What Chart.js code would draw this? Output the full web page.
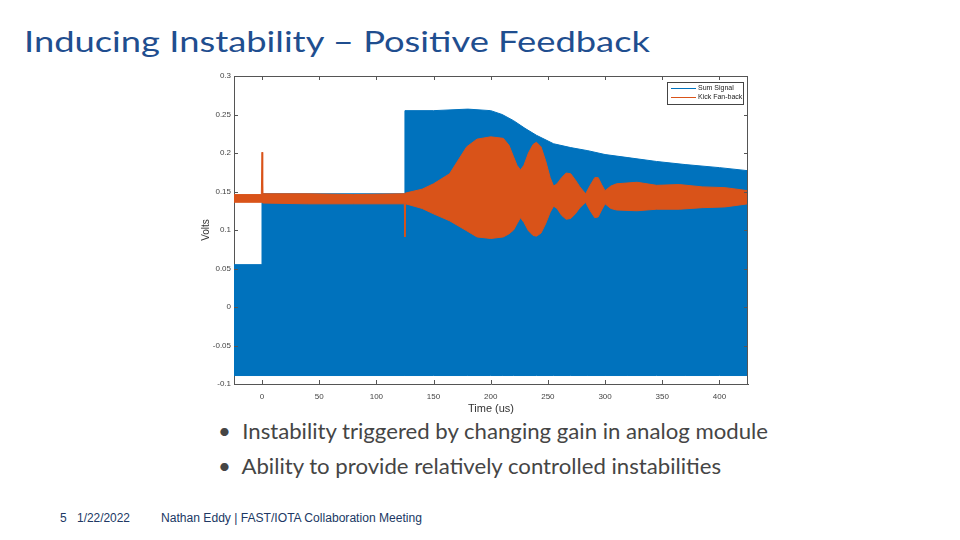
<!DOCTYPE html>
<html>
<head>
<meta charset="utf-8">
<script src="https://cdn.jsdelivr.net/npm/chart.js@4.4.1/dist/chart.umd.min.js"></script>
<style>
  html, body { margin: 0; padding: 0; background: #fff; }
  #slide { position: relative; width: 960px; height: 540px; overflow: hidden; background: #fff; }
  .fit { position: absolute; white-space: nowrap; transform-origin: 0 0; }
  #title { left: 24px; top: 23px; font-family: Lato, "Open Sans", sans-serif; font-size: 29px; color: #1f4e8f; }
  .bullet { left: 218px; font-family: Lato, "Open Sans", sans-serif; font-size: 21px; color: #454545; }
  .foot { top: 511px; font-family: "Liberation Sans Narrow", "Liberation Sans", Arial, sans-serif; font-size: 12px; color: #203864; }
  #chartBox { position: absolute; left: 190px; top: 66px; width: 564px; height: 350px; }
</style>
</head>
<body>
<div id="slide">
  <div id="title" class="fit" data-w="626">Inducing Instability – Positive Feedback</div>
  <div id="chartBox"><canvas id="c"></canvas></div>
  <div class="fit bullet" style="top:418px" data-w="550">•&nbsp;&nbsp;Instability triggered by changing gain in analog module</div>
  <div class="fit bullet" style="top:453px" data-w="503">•&nbsp;&nbsp;Ability to provide relatively controlled instabilities</div>
  <div class="fit foot" style="left:60px">5</div>
  <div class="fit foot" style="left:77px" data-w="53">1/22/2022</div>
  <div class="fit foot" style="left:161px" data-w="261">Nathan Eddy | FAST/IOTA Collaboration Meeting</div>
</div>
<script>
const xTicks = [0, 50, 100, 150, 200, 250, 300, 350, 400];
const yTicks = [-0.1, -0.05, 0, 0.05, 0.1, 0.15, 0.2, 0.25, 0.3];

// Sum signal envelope (us, volts)
const sumTime   = [-24.5, 0, 0, 125, 125, 150, 180, 200, 210, 220, 230, 240, 255, 270, 285, 300, 320, 345, 370, 400, 425];
const sumTop    = [0.055, 0.055, 0.147, 0.147, 0.255, 0.255, 0.257, 0.255, 0.250, 0.242, 0.232, 0.223, 0.212, 0.207, 0.203, 0.198, 0.194, 0.189, 0.185, 0.181, 0.177];
const sumBottom = [-0.089, -0.089, -0.089, -0.089, -0.089, -0.089, -0.089, -0.089, -0.089, -0.089, -0.089, -0.089, -0.089, -0.089, -0.089, -0.089, -0.089, -0.089, -0.089, -0.089, -0.089];

// Kick fan-back envelope
const kickTime   = [-24.5, -0.6, 0, 0.6, 40, 80, 124.4, 125, 125.6, 140, 150, 164, 179, 188, 200, 211, 216, 220, 223, 226, 229, 233, 237, 240, 244, 248, 252, 255, 258, 262, 266, 270, 274, 278, 283, 287, 291, 294, 297, 300, 305, 310, 328, 345, 365, 385, 405, 425];
const kickTop    = [0.146, 0.146, 0.201, 0.147, 0.147, 0.146, 0.147, 0.147, 0.148, 0.153, 0.160, 0.173, 0.208, 0.218, 0.221, 0.219, 0.210, 0.195, 0.184, 0.178, 0.184, 0.200, 0.211, 0.214, 0.208, 0.190, 0.168, 0.157, 0.160, 0.168, 0.174, 0.173, 0.165, 0.156, 0.147, 0.158, 0.168, 0.168, 0.159, 0.151, 0.157, 0.160, 0.162, 0.158, 0.159, 0.156, 0.155, 0.151];
const kickBottom = [0.136, 0.136, 0.136, 0.135, 0.134, 0.134, 0.134, 0.091, 0.134, 0.128, 0.121, 0.112, 0.099, 0.091, 0.089, 0.091, 0.095, 0.100, 0.108, 0.116, 0.110, 0.099, 0.093, 0.092, 0.096, 0.108, 0.123, 0.131, 0.128, 0.119, 0.114, 0.115, 0.121, 0.129, 0.136, 0.125, 0.116, 0.117, 0.126, 0.134, 0.128, 0.126, 0.125, 0.127, 0.127, 0.129, 0.130, 0.134];

const seriesLabels = ['Sum Signal', 'Kick Fan-back'];
const sumColor = '#0072BD';
const kickColor = '#D95319';

const pts = (xs, ys) => xs.map((x, i) => ({ x, y: ys[i] }));

// squeeze text boxes to the width they take on the slide
document.querySelectorAll('.fit[data-w]').forEach(el => {
    const w = el.getBoundingClientRect().width;
    el.style.transform = `scaleX(${(+el.dataset.w / w).toFixed(4)})`;
});

// matlab style box: inward ticks on all four sides + legend in the corner
const matlabBox = {
    id: 'matlabBox',
    afterDraw(chart) {
        const { ctx, chartArea: a, scales: { x, y } } = chart;
        const len = 4;
        ctx.save();
        ctx.strokeStyle = '#555';
        ctx.lineWidth = 1;
        ctx.beginPath();
        ctx.moveTo(a.left, a.top + 0.5); ctx.lineTo(a.right, a.top + 0.5);
        ctx.moveTo(a.right - 0.5, a.top); ctx.lineTo(a.right - 0.5, a.bottom);
        xTicks.forEach(v => {
            const px = Math.round(x.getPixelForValue(v)) + 0.5;
            ctx.moveTo(px, a.bottom); ctx.lineTo(px, a.bottom - len);
            ctx.moveTo(px, a.top); ctx.lineTo(px, a.top + len);
        });
        yTicks.forEach(v => {
            const py = Math.round(y.getPixelForValue(v)) + 0.5;
            ctx.moveTo(a.left, py); ctx.lineTo(a.left + len, py);
            ctx.moveTo(a.right, py); ctx.lineTo(a.right - len, py);
        });
        ctx.stroke();

        // legend
        const bw = 76, bh = 22;
        const bx = a.right - bw - 5, by = a.top + 6;
        ctx.fillStyle = '#fff';
        ctx.fillRect(bx, by, bw, bh);
        ctx.strokeStyle = '#444';
        ctx.strokeRect(bx + 0.5, by + 0.5, bw, bh);
        ctx.font = '7px Arial, "Liberation Sans", sans-serif';
        ctx.textBaseline = 'middle';
        [sumColor, kickColor].forEach((col, i) => {
            const ly = by + 6 + i * 9;
            ctx.strokeStyle = col;
            ctx.beginPath();
            ctx.moveTo(bx + 4, ly + 0.5); ctx.lineTo(bx + 29, ly + 0.5);
            ctx.stroke();
            ctx.fillStyle = '#222';
            ctx.fillText(seriesLabels[i], bx + 31, ly);
        });
        ctx.restore();
    }
};

new Chart(document.getElementById('c'), {
    type: 'line',
    data: {
        datasets: [
            { label: seriesLabels[0], data: pts(sumTime, sumTop), borderColor: sumColor, backgroundColor: sumColor, fill: 1, order: 2 },
            { label: '', data: pts(sumTime, sumBottom), borderColor: sumColor, backgroundColor: sumColor, fill: false, order: 2 },
            { label: seriesLabels[1], data: pts(kickTime, kickTop), borderColor: kickColor, backgroundColor: kickColor, fill: 3, order: 1 },
            { label: '', data: pts(kickTime, kickBottom), borderColor: kickColor, backgroundColor: kickColor, fill: false, order: 1 }
        ]
    },
    options: {
        responsive: true,
        maintainAspectRatio: false,
        animation: false,
        elements: {
            point: { radius: 0 },
            line: { borderWidth: 1, tension: 0 }
        },
        layout: { padding: { top: 10, right: 6 } },
        plugins: {
            legend: { display: false },
            tooltip: { enabled: false }
        },
        scales: {
            x: {
                type: 'linear',
                min: -24.5,
                max: 425,
                afterBuildTicks: s => { s.ticks = xTicks.map(v => ({ value: v })); },
                afterFit: s => { s.height = 32; },
                grid: { display: false, drawTicks: false },
                border: { display: true, color: '#555' },
                ticks: { color: '#444', font: { size: 8, family: 'Arial, "Liberation Sans"' }, padding: 8, maxRotation: 0 },
                title: { display: true, text: 'Time (us)', color: '#333', font: { size: 11, family: 'Arial, "Liberation Sans"' }, padding: 0 }
            },
            y: {
                min: -0.1,
                max: 0.3,
                afterBuildTicks: s => { s.ticks = yTicks.map(v => ({ value: v })); },
                afterFit: s => { s.width = 44; },
                grid: { display: false, drawTicks: false },
                border: { display: true, color: '#555' },
                ticks: { color: '#444', font: { size: 8, family: 'Arial, "Liberation Sans"' }, padding: 3, callback: v => String(+v.toFixed(2)) },
                title: { display: true, text: 'Volts', color: '#333', font: { size: 10, family: 'Arial, "Liberation Sans"' }, padding: { top: 10, bottom: 0 } }
            }
        }
    },
    plugins: [matlabBox]
});
</script>
</body>
</html>
